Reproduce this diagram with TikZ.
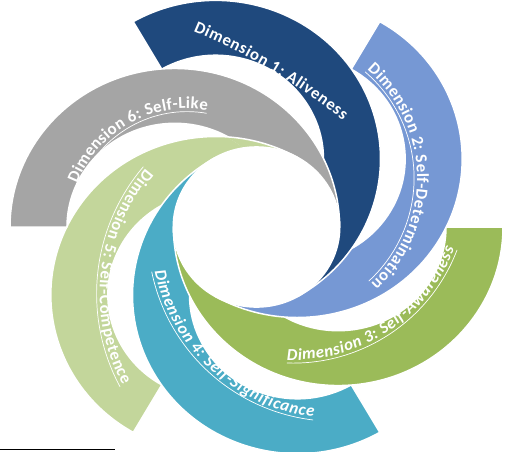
\documentclass[tikz,border=0pt]{standalone}
\usepackage{fontspec}
\setmainfont{Carlito}
\usetikzlibrary{decorations.text}

\definecolor{dimblue}{HTML}{1F497D}
\definecolor{dimlblue}{HTML}{7698D4}
\definecolor{dimgreen}{HTML}{9BBB59}
\definecolor{dimteal}{HTML}{4BACC6}
\definecolor{dimlgreen}{HTML}{C3D69B}
\definecolor{dimgray}{HTML}{A5A5A5}

\newcommand\dimfont{\fontsize{16.8}{16.8}\selectfont\bfseries}

\tikzset{
    blade/.style={fill=#1, draw=white, line width=1.5pt},
    dimtext/.style={decorate, decoration={text along path, text color=white, text align={fit to path}, text={#1}}},
    uline/.style={draw=white, line width=0.7pt}
}

\begin{document}
\begin{tikzpicture}[x=1pt, y=1pt]
    \useasboundingbox (-256.5,-224) rectangle (269.5,227);

        \def\off{81.7}
        \def\rout{164.8}
        \def\rin{107.8}

        \begin{scope}[yscale=0.962]
            \foreach \a/\col in {-120/dimlgreen, -60/dimteal, 0/dimgreen, 60/dimlblue, 120/dimblue, 180/dimgray} {%
                \path[blade=\col, shift={(\a:\off)}] (\a:\rout) arc[start angle=\a, end angle=\a-180, radius=\rout]
                    -- ({\a-180}:\rin) arc[start angle=\a-180, end angle=\a, radius=\rin] -- cycle;%
            }
            % light green goes over gray
            \begin{scope}
                \clip[shift={(180:\off)}] (180:{\rout+1}) arc[start angle=180, end angle=0, radius=\rout+1]
                    -- (0:{\rin-1}) arc[start angle=0, end angle=180, radius=\rin-1] -- cycle;
                \path[blade=dimlgreen, shift={(-120:\off)}] (-120:\rout) arc[start angle=-120, end angle=-300, radius=\rout]
                    -- (-300:\rin) arc[start angle=-300, end angle=-120, radius=\rin] -- cycle;
            \end{scope}
            \fill[white] (0,0) circle[radius=84];
        \end{scope}

        \path[dimtext={|\dimfont|Dimension 1: Aliveness}, shift={(-301.4,-373.8)}] (67.3:617.4) arc[start angle=67.3, end angle=51.1, radius=617.4];

        \path[dimtext={|\dimfont|Dimension 2: Self-Determination}, shift={(17.9,48.9)}] (49.5:142.7) arc[start angle=49.5, end angle=-47.5, radius=142.7];
        \draw[uline, shift={(17.9,48.9)}] (49.5:139.7) arc[start angle=49.5, end angle=-47.5, radius=139.7];

        \path[dimtext={|\dimfont\itshape|Dimension 3: Self-Awareness}, shift={(36.5,39.4)}] (-92:172.5) arc[start angle=-92, end angle=-20.8, radius=172.5];
        \draw[uline, shift={(36.5,39.4)}] (-92:175.5) arc[start angle=-92, end angle=-20.8, radius=175.5];

        \path[dimtext={|\dimfont\itshape|Dimension 4: Self-Significance}, shift={(78.9,-6.7)}] (191.7:184.6) arc[start angle=191.7, end angle=263.2, radius=184.6];
        \draw[uline, shift={(78.9,-6.7)}] (191.7:187.6) arc[start angle=191.7, end angle=263.2, radius=187.6];

        \path[dimtext={|\dimfont|Dimension 5: Self-Competence}, shift={(36.2,-66.8)}] (139.6:193.1) arc[start angle=139.6, end angle=208.3, radius=193.1];
        \draw[uline, shift={(36.2,-66.8)}] (139.6:196.1) arc[start angle=139.6, end angle=208.3, radius=196.1];

        \path[dimtext={|\dimfont|Dimension 6: Self-Like}, shift={(-69.4,0.5)}] (158.8:117.9) arc[start angle=158.8, end angle=80.2, radius=117.9];
        \draw[uline, shift={(-69.4,0.5)}] (158.8:114.9) arc[start angle=158.8, end angle=80.2, radius=114.9];

        \draw[line width=1.6pt] (-256.5,-222.5) -- (-141.5,-222.5);

    \end{tikzpicture}
\end{document}
